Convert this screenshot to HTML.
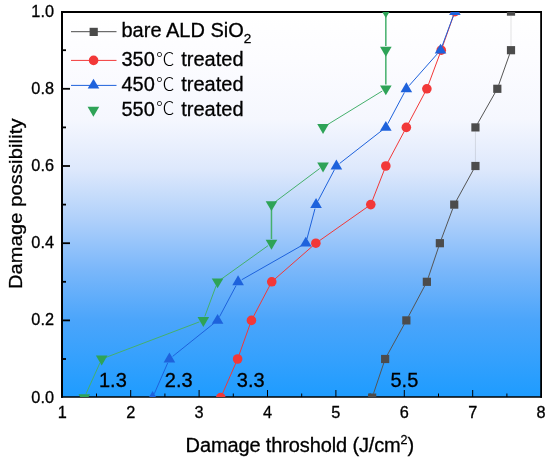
<!DOCTYPE html>
<html><head><meta charset="utf-8"><title>Damage possibility</title>
<style>
html,body{margin:0;padding:0;background:#fff;}
svg{display:block;}
text{font-family:"Liberation Sans","Noto Sans CJK SC",sans-serif;fill:#000;stroke:#000;stroke-width:0.3px;}
.tk{font-size:16.3px;}
.lg{font-size:20px;}
.ax{font-size:20px;}
.cj{font-family:"Liberation Sans","Noto Sans CJK SC","Noto Sans CJK JP",sans-serif;font-weight:300;font-size:18.5px;stroke-width:0;}
</style></head><body>
<svg width="550" height="461" viewBox="0 0 550 461">
<defs>
<linearGradient id="bg" x1="0" y1="0" x2="0" y2="1">
<stop offset="0" stop-color="#ffffff"/>
<stop offset="0.125" stop-color="#fcfcff"/>
<stop offset="0.28" stop-color="#f5f7fe"/>
<stop offset="0.41" stop-color="#dde8fc"/>
<stop offset="0.54" stop-color="#afd0fa"/>
<stop offset="0.67" stop-color="#7ab7fa"/>
<stop offset="0.80" stop-color="#4ba5fb"/>
<stop offset="1" stop-color="#1e9cff"/>
</linearGradient>
<clipPath id="cp"><rect x="62" y="12" width="479" height="385"/></clipPath>
</defs>
<rect x="0" y="0" width="550" height="461" fill="#ffffff"/>
<rect x="62" y="12" width="479" height="385" fill="url(#bg)"/>

<line x1="62" y1="10.9" x2="62" y2="397.85" stroke="#000" stroke-width="2"/>
<line x1="61" y1="11.9" x2="542" y2="11.9" stroke="#000" stroke-width="2"/>
<line x1="541.1" y1="10.9" x2="541.1" y2="397.85" stroke="#000" stroke-width="1.8"/>
<line x1="61" y1="397.1" x2="542" y2="397.1" stroke="#000" stroke-width="1.5"/>
<text class="tk" x="54" y="402.60" text-anchor="end">0.0</text>
<line x1="62" y1="359.00" x2="66" y2="359.00" stroke="#000" stroke-width="1.8"/>
<line x1="62" y1="320.40" x2="70" y2="320.40" stroke="#000" stroke-width="1.8"/>
<text class="tk" x="54" y="325.40" text-anchor="end">0.2</text>
<line x1="62" y1="281.80" x2="66" y2="281.80" stroke="#000" stroke-width="1.8"/>
<line x1="62" y1="243.20" x2="70" y2="243.20" stroke="#000" stroke-width="1.8"/>
<text class="tk" x="54" y="248.20" text-anchor="end">0.4</text>
<line x1="62" y1="204.60" x2="66" y2="204.60" stroke="#000" stroke-width="1.8"/>
<line x1="62" y1="166.00" x2="70" y2="166.00" stroke="#000" stroke-width="1.8"/>
<text class="tk" x="54" y="171.00" text-anchor="end">0.6</text>
<line x1="62" y1="127.40" x2="66" y2="127.40" stroke="#000" stroke-width="1.8"/>
<line x1="62" y1="88.80" x2="70" y2="88.80" stroke="#000" stroke-width="1.8"/>
<text class="tk" x="54" y="93.80" text-anchor="end">0.8</text>
<line x1="62" y1="50.20" x2="66" y2="50.20" stroke="#000" stroke-width="1.8"/>
<text class="tk" x="54" y="16.60" text-anchor="end">1.0</text>
<text class="tk" x="62.30" y="418.3" text-anchor="middle">1</text>
<line x1="96.50" y1="397" x2="96.50" y2="393.5" stroke="#000" stroke-width="1"/>
<line x1="130.70" y1="397" x2="130.70" y2="390" stroke="#000" stroke-width="1"/>
<text class="tk" x="130.70" y="418.3" text-anchor="middle">2</text>
<line x1="164.90" y1="397" x2="164.90" y2="393.5" stroke="#000" stroke-width="1"/>
<line x1="199.10" y1="397" x2="199.10" y2="390" stroke="#000" stroke-width="1"/>
<text class="tk" x="199.10" y="418.3" text-anchor="middle">3</text>
<line x1="233.30" y1="397" x2="233.30" y2="393.5" stroke="#000" stroke-width="1"/>
<line x1="267.50" y1="397" x2="267.50" y2="390" stroke="#000" stroke-width="1"/>
<text class="tk" x="267.50" y="418.3" text-anchor="middle">4</text>
<line x1="301.70" y1="397" x2="301.70" y2="393.5" stroke="#000" stroke-width="1"/>
<line x1="335.90" y1="397" x2="335.90" y2="390" stroke="#000" stroke-width="1"/>
<text class="tk" x="335.90" y="418.3" text-anchor="middle">5</text>
<line x1="370.10" y1="397" x2="370.10" y2="393.5" stroke="#000" stroke-width="1"/>
<line x1="404.30" y1="397" x2="404.30" y2="390" stroke="#000" stroke-width="1"/>
<text class="tk" x="404.30" y="418.3" text-anchor="middle">6</text>
<line x1="438.50" y1="397" x2="438.50" y2="393.5" stroke="#000" stroke-width="1"/>
<line x1="472.70" y1="397" x2="472.70" y2="390" stroke="#000" stroke-width="1"/>
<text class="tk" x="472.70" y="418.3" text-anchor="middle">7</text>
<line x1="506.90" y1="397" x2="506.90" y2="393.5" stroke="#000" stroke-width="1"/>
<text class="tk" x="541.10" y="418.3" text-anchor="middle">8</text>
<g clip-path="url(#cp)">
<line x1="373.49" y1="393.62" x2="383.81" y2="362.98" stroke="#555555" stroke-width="1.0"/>
<line x1="387.17" y1="355.32" x2="404.33" y2="324.08" stroke="#555555" stroke-width="1.0"/>
<line x1="408.32" y1="316.69" x2="424.90" y2="285.51" stroke="#555555" stroke-width="1.0"/>
<line x1="428.21" y1="277.82" x2="438.53" y2="247.18" stroke="#555555" stroke-width="1.0"/>
<line x1="441.33" y1="239.26" x2="452.77" y2="208.54" stroke="#555555" stroke-width="1.0"/>
<line x1="456.25" y1="200.92" x2="473.41" y2="169.68" stroke="#555555" stroke-width="1.0"/>
<line stroke-opacity="0.2" x1="475.44" y1="161.80" x2="475.44" y2="131.60" stroke="#555555" stroke-width="0.8"/>
<line x1="477.51" y1="123.75" x2="495.25" y2="92.45" stroke="#555555" stroke-width="1.0"/>
<line x1="498.73" y1="84.84" x2="509.60" y2="54.16" stroke="#555555" stroke-width="1.0"/>
<line stroke-opacity="0.2" x1="511.00" y1="46.00" x2="511.00" y2="15.80" stroke="#555555" stroke-width="0.8"/>
<rect x="368.05" y="393.50" width="8.2" height="8.2" fill="#4c4c4c"/>
<rect x="381.05" y="354.90" width="8.2" height="8.2" fill="#4c4c4c"/>
<rect x="402.25" y="316.30" width="8.2" height="8.2" fill="#4c4c4c"/>
<rect x="422.77" y="277.70" width="8.2" height="8.2" fill="#4c4c4c"/>
<rect x="435.77" y="239.10" width="8.2" height="8.2" fill="#4c4c4c"/>
<rect x="450.13" y="200.50" width="8.2" height="8.2" fill="#4c4c4c"/>
<rect x="471.34" y="161.90" width="8.2" height="8.2" fill="#4c4c4c"/>
<rect x="471.34" y="123.30" width="8.2" height="8.2" fill="#4c4c4c"/>
<rect x="493.22" y="84.70" width="8.2" height="8.2" fill="#4c4c4c"/>
<rect x="506.90" y="46.10" width="8.2" height="8.2" fill="#4c4c4c"/>
<rect x="506.90" y="7.50" width="8.2" height="8.2" fill="#4c4c4c"/>
<line x1="222.46" y1="393.75" x2="235.93" y2="362.85" stroke="#f23838" stroke-width="1.0"/>
<line x1="239.02" y1="355.05" x2="250.01" y2="324.35" stroke="#f23838" stroke-width="1.0"/>
<line x1="253.38" y1="316.68" x2="269.78" y2="285.52" stroke="#f23838" stroke-width="1.0"/>
<line x1="274.90" y1="279.03" x2="312.70" y2="245.97" stroke="#f23838" stroke-width="1.0"/>
<line x1="319.30" y1="240.79" x2="367.35" y2="207.01" stroke="#f23838" stroke-width="1.0"/>
<line x1="372.31" y1="200.69" x2="384.31" y2="169.91" stroke="#f23838" stroke-width="1.0"/>
<line x1="387.80" y1="162.29" x2="404.38" y2="131.11" stroke="#f23838" stroke-width="1.0"/>
<line x1="408.32" y1="123.69" x2="424.90" y2="92.51" stroke="#f23838" stroke-width="1.0"/>
<line x1="428.34" y1="84.86" x2="439.77" y2="54.14" stroke="#f23838" stroke-width="1.0"/>
<line x1="442.64" y1="46.24" x2="453.51" y2="15.56" stroke="#f23838" stroke-width="1.0"/>
<circle cx="220.78" cy="397.60" r="4.8" fill="#f23838"/>
<circle cx="237.61" cy="359.00" r="4.8" fill="#f23838"/>
<circle cx="251.43" cy="320.40" r="4.8" fill="#f23838"/>
<circle cx="271.74" cy="281.80" r="4.8" fill="#f23838"/>
<circle cx="315.86" cy="243.20" r="4.8" fill="#f23838"/>
<circle cx="370.78" cy="204.60" r="4.8" fill="#f23838"/>
<circle cx="385.83" cy="166.00" r="4.8" fill="#f23838"/>
<circle cx="406.35" cy="127.40" r="4.8" fill="#f23838"/>
<circle cx="426.87" cy="88.80" r="4.8" fill="#f23838"/>
<circle cx="441.24" cy="50.20" r="4.8" fill="#f23838"/>
<circle cx="454.92" cy="11.60" r="4.8" fill="#f23838"/>
<line x1="154.27" y1="393.75" x2="167.74" y2="362.85" stroke="#1e62dc" stroke-width="1.0"/>
<line x1="172.69" y1="356.37" x2="214.29" y2="323.03" stroke="#1e62dc" stroke-width="1.0"/>
<line x1="219.54" y1="316.69" x2="236.12" y2="285.51" stroke="#1e62dc" stroke-width="1.0"/>
<line x1="241.74" y1="279.72" x2="302.16" y2="245.28" stroke="#1e62dc" stroke-width="1.0"/>
<line x1="306.88" y1="239.14" x2="314.99" y2="208.66" stroke="#1e62dc" stroke-width="1.0"/>
<line x1="318.02" y1="200.88" x2="334.42" y2="169.72" stroke="#1e62dc" stroke-width="1.0"/>
<line x1="339.69" y1="163.42" x2="382.52" y2="129.98" stroke="#1e62dc" stroke-width="1.0"/>
<line x1="387.80" y1="123.69" x2="404.38" y2="92.51" stroke="#1e62dc" stroke-width="1.0"/>
<line x1="409.14" y1="85.66" x2="437.77" y2="53.34" stroke="#1e62dc" stroke-width="1.0"/>
<line x1="442.02" y1="46.26" x2="453.45" y2="15.54" stroke="#1e62dc" stroke-width="1.0"/>
<polygon points="152.59,391.10 158.39,401.00 146.79,401.00" fill="#1e62dc"/>
<polygon points="169.41,352.50 175.21,362.40 163.61,362.40" fill="#1e62dc"/>
<polygon points="217.57,313.90 223.37,323.80 211.77,323.80" fill="#1e62dc"/>
<polygon points="238.09,275.30 243.89,285.20 232.29,285.20" fill="#1e62dc"/>
<polygon points="305.80,236.70 311.60,246.60 300.00,246.60" fill="#1e62dc"/>
<polygon points="316.06,198.10 321.86,208.00 310.26,208.00" fill="#1e62dc"/>
<polygon points="336.38,159.50 342.18,169.40 330.58,169.40" fill="#1e62dc"/>
<polygon points="385.83,120.90 391.63,130.80 380.03,130.80" fill="#1e62dc"/>
<polygon points="406.35,82.30 412.15,92.20 400.55,92.20" fill="#1e62dc"/>
<polygon points="440.55,43.70 446.35,53.60 434.75,53.60" fill="#1e62dc"/>
<polygon points="454.92,5.10 460.72,15.00 449.12,15.00" fill="#1e62dc"/>
<line x1="86.05" y1="393.77" x2="99.97" y2="362.83" stroke="#45b06c" stroke-width="1.0"/>
<line x1="105.62" y1="357.51" x2="199.41" y2="321.89" stroke="#45b06c" stroke-width="1.0"/>
<line x1="204.79" y1="316.46" x2="216.12" y2="285.74" stroke="#45b06c" stroke-width="1.0"/>
<line x1="220.98" y1="279.35" x2="268.05" y2="245.65" stroke="#45b06c" stroke-width="1.0"/>
<line x1="271.47" y1="239.00" x2="271.47" y2="208.80" stroke="#45b06c" stroke-width="1.5"/>
<line x1="274.83" y1="202.08" x2="319.68" y2="168.52" stroke="#45b06c" stroke-width="1.0"/>
<line x1="326.62" y1="125.20" x2="382.25" y2="91.00" stroke="#45b06c" stroke-width="1.0"/>
<line x1="385.83" y1="84.60" x2="385.83" y2="54.40" stroke="#45b06c" stroke-width="1.5"/>
<line x1="385.83" y1="46.00" x2="385.83" y2="15.80" stroke="#45b06c" stroke-width="1.5"/>
<polygon points="84.32,404.10 90.12,394.20 78.52,394.20" fill="#2ea357"/>
<polygon points="101.70,365.50 107.50,355.60 95.90,355.60" fill="#2ea357"/>
<polygon points="203.34,326.90 209.14,317.00 197.54,317.00" fill="#2ea357"/>
<polygon points="217.57,288.30 223.37,278.40 211.77,278.40" fill="#2ea357"/>
<polygon points="271.47,249.70 277.27,239.80 265.67,239.80" fill="#2ea357"/>
<polygon points="271.47,211.10 277.27,201.20 265.67,201.20" fill="#2ea357"/>
<polygon points="323.04,172.50 328.84,162.60 317.24,162.60" fill="#2ea357"/>
<polygon points="323.04,133.90 328.84,124.00 317.24,124.00" fill="#2ea357"/>
<polygon points="385.83,95.30 391.63,85.40 380.03,85.40" fill="#2ea357"/>
<polygon points="385.83,56.70 391.63,46.80 380.03,46.80" fill="#2ea357"/>
<polygon points="385.83,18.10 391.63,8.20 380.03,8.20" fill="#2ea357"/>
</g>
<text class="lg" x="99" y="386.9">1.3</text>
<text class="lg" x="164.8" y="386.9">2.3</text>
<text class="lg" x="236.8" y="386.9">3.3</text>
<text class="lg" x="390.5" y="386.9">5.5</text>
<text class="ax" x="185.6" y="451.7" textLength="228.5">Damage throshold (J/cm<tspan font-size="12.5" dy="-8">2</tspan><tspan dy="8">)</tspan></text>
<text class="ax" transform="translate(22.4,289) scale(0.955,1) rotate(-90)" textLength="170.5">Damage possibility</text>
<line x1="71" y1="31.7" x2="116.5" y2="31.7" stroke="#4a4a4a" stroke-width="1"/>
<rect x="89.60" y="27.80" width="8.2" height="8.2" fill="#4a4a4a"/>
<text class="lg" x="121.5" y="37.2">bare ALD SiO<tspan font-size="13.5" dy="5.5">2</tspan></text>
<line x1="71" y1="60.4" x2="116.5" y2="60.4" stroke="#f23838" stroke-width="1"/>
<circle cx="93.60" cy="60.40" r="4.8" fill="#f23838"/>
<text class="lg" x="121.5" y="66.3">350<tspan class="cj" dx="1.2" dy="-0.4">℃</tspan><tspan dx="1.1" dy="0.4"> treated</tspan></text>
<line x1="71" y1="85.4" x2="116.5" y2="85.4" stroke="#1e62dc" stroke-width="1"/>
<polygon points="93.50,78.70 99.30,88.60 87.70,88.60" fill="#1e62dc"/>
<text class="lg" x="121.5" y="91.4">450<tspan class="cj" dx="1.2" dy="-0.4">℃</tspan><tspan dx="1.1" dy="0.4"> treated</tspan></text>
<polygon points="93.40,116.70 99.20,106.80 87.60,106.80" fill="#2ea357"/>
<text class="lg" x="121.5" y="115.7">550<tspan class="cj" dx="1.2" dy="-0.4">℃</tspan><tspan dx="1.1" dy="0.4"> treated</tspan></text>
</svg>
</body></html>
